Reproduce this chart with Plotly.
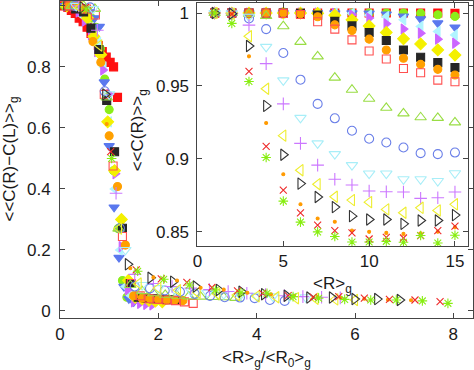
import plotly.graph_objects as go

# ---------------- inset data: <<C(R)>>_g vs <R>_g ----------------
R_inset = [1, 2, 3, 4, 5, 6, 7, 8, 9, 10, 11, 12, 13, 14, 15]

C_star = [1.0, 0.9929, 0.9531, 0.9009, 0.8710, 0.8566, 0.8499, 0.8467, 0.8430, 0.8430, 0.8434, 0.8428, 0.8474, 0.8423, 0.8476]
C_x = [1.0, 0.9993, 0.9600, 0.9085, 0.8786, 0.8630, 0.8545, 0.8508, 0.8492, 0.8450, 0.8462, 0.8457, 0.8474, 0.8508, 0.8538]
C_dot = [1.0, 0.9995, 0.9703, 0.9246, 0.8894, 0.8688, 0.8591, 0.8568, 0.8508, 0.8499, 0.8492, 0.8485, 0.8490, 0.8500, 0.8530]
C_rtri = [1.0, 0.9995, 0.9774, 0.9363, 0.9028, 0.8830, 0.8738, 0.8669, 0.8607, 0.8584, 0.8584, 0.8554, 0.8577, 0.8577, 0.8614]
C_ltri = [1.0, 0.9995, 0.9841, 0.9481, 0.9159, 0.8922, 0.8826, 0.8740, 0.8717, 0.8703, 0.8653, 0.8630, 0.8664, 0.8646, 0.8688]
C_plus = [1.0, 0.9995, 0.9917, 0.9653, 0.9377, 0.9106, 0.8957, 0.8860, 0.8821, 0.8779, 0.8774, 0.8772, 0.8729, 0.8733, 0.8772]
C_dtri = [1.0, 0.9998, 0.9975, 0.9768, 0.9538, 0.9281, 0.9106, 0.9032, 0.8957, 0.8899, 0.8899, 0.8860, 0.8860, 0.8848, 0.8901]
C_circ = [1.0, 0.9998, 0.9963, 0.9890, 0.9726, 0.9543, 0.9377, 0.9278, 0.9193, 0.9138, 0.9112, 0.9078, 0.9039, 0.9032, 0.9043]
C_utri = [1.0, 1.0, 0.9995, 0.9980, 0.9910, 0.9802, 0.9703, 0.9557, 0.9474, 0.9412, 0.9350, 0.9312, 0.9285, 0.9281, 0.9250]
C_sqo = [1.0, 1.0, 1.0, 1.0, 0.9998, 0.9990, 0.9940, 0.9890, 0.9816, 0.9740, 0.9685, 0.9620, 0.9591, 0.9540, 0.9529]
C_ocirc = [1.0, 1.0, 1.0, 1.0, 1.0, 0.9995, 0.9975, 0.9919, 0.9880, 0.9821, 0.9747, 0.9690, 0.9648, 0.9614, 0.9575]
C_bsq = [1.0, 1.0, 1.0, 1.0, 1.0, 0.9998, 0.9986, 0.9943, 0.9912, 0.9867, 0.9812, 0.9747, 0.9697, 0.9660, 0.9626]
C_dia = [1.0, 1.0, 1.0, 1.0, 1.0, 1.0, 0.9998, 0.9985, 0.9954, 0.9912, 0.9867, 0.9823, 0.9788, 0.9747, 0.9712]
C_vrtri = [1.0, 1.0, 1.0, 1.0, 1.0, 1.0, 1.0, 0.9998, 0.9988, 0.9966, 0.9926, 0.9890, 0.9862, 0.9821, 0.9793]
C_cltri = [1.0, 1.0, 1.0, 1.0, 1.0, 1.0, 1.0, 1.0, 0.9998, 0.9985, 0.9975, 0.9954, 0.9908, 0.9874, 0.9850]
C_bdtri = [1.0, 1.0, 1.0, 1.0, 1.0, 1.0, 1.0, 1.0, 1.0, 0.9998, 0.9992, 0.9977, 0.9959, 0.9931, 0.9903]
C_gcirc = [1.0, 1.0, 1.0, 1.0, 1.0, 1.0, 1.0, 1.0, 1.0, 1.0, 1.0, 1.0, 0.9998, 0.9988, 0.9977]
C_rsq = [1.0, 1.0, 1.0, 1.0, 1.0, 1.0, 1.0, 1.0, 1.0, 1.0, 1.0, 1.0, 1.0, 1.0, 0.9998]

# ---------------- main data: <<C(R)-C(L)>>_g vs <R>_g/<R0>_g ----------------
X_star = [0.53, 1.05, 1.58, 2.11, 2.63, 3.16, 3.68, 4.21, 4.74, 5.26, 5.79, 6.32, 6.84, 7.37, 7.89]
Y_star = [0.99, 0.50, 0.13, 0.104, 0.085, 0.069, 0.06, 0.058, 0.047, 0.042, 0.038, 0.036, 0.036, 0.033, 0.025]
X_x = [0.52, 1.03, 1.55, 2.06, 2.58, 3.09, 3.61, 4.12, 4.64, 5.15, 5.67, 6.19, 6.70, 7.22, 7.73]
Y_x = [0.995, 0.522, 0.135, 0.105, 0.094, 0.077, 0.066, 0.058, 0.05, 0.045, 0.047, 0.042, 0.038, 0.036, 0.031]
X_dot = [0.48, 0.95, 1.43, 1.90, 2.38, 2.86, 3.33, 3.81, 4.29, 4.76, 5.24, 5.71, 6.19, 6.67, 7.14]
Y_dot = [0.995, 0.613, 0.14, 0.11, 0.1, 0.076, 0.07, 0.06, 0.055, 0.05, 0.046, 0.043, 0.04, 0.037, 0.035]
X_rtri = [0.46, 0.92, 1.38, 1.84, 2.30, 2.76, 3.23, 3.69, 4.15, 4.61, 5.07, 5.53, 5.99, 6.45, 6.91]
Y_rtri = [0.995, 0.71, 0.153, 0.109, 0.096, 0.08, 0.069, 0.063, 0.055, 0.05, 0.044, 0.044, 0.039, 0.039, 0.036]
X_ltri = [0.40, 0.80, 1.20, 1.60, 2.00, 2.40, 2.80, 3.20, 3.60, 4.00, 4.40, 4.80, 5.20, 5.60, 6.00]
Y_ltri = [0.995, 0.87, 0.27, 0.09, 0.075, 0.068, 0.06, 0.056, 0.052, 0.048, 0.045, 0.042, 0.04, 0.038, 0.036]
X_plus = [0.38, 0.76, 1.14, 1.52, 1.90, 2.28, 2.66, 3.04, 3.42, 3.80, 4.18, 4.56, 4.94, 5.32, 5.70]
Y_plus = [1.0, 0.92, 0.386, 0.12, 0.09, 0.08, 0.075, 0.07, 0.064, 0.058, 0.054, 0.05, 0.047, 0.045, 0.043]
X_dtri = [0.33, 0.67, 1.00, 1.33, 1.67, 2.00, 2.33, 2.67, 3.00, 3.33, 3.67, 4.00, 4.33, 4.67, 5.00]
Y_dtri = [1.0, 0.99, 0.71, 0.2, 0.085, 0.075, 0.07, 0.065, 0.06, 0.055, 0.052, 0.05, 0.048, 0.047, 0.045]
X_circ = [0.30, 0.61, 0.91, 1.22, 1.52, 1.83, 2.13, 2.44, 2.74, 3.05, 3.35, 3.66, 3.96, 4.27, 4.57]
Y_circ = [1.0, 0.995, 0.72, 0.271, 0.08, 0.074, 0.067, 0.063, 0.056, 0.049, 0.045, 0.044, 0.042, 0.036, 0.033]
X_utri = [0.24, 0.48, 0.71, 0.95, 1.19, 1.43, 1.67, 1.90, 2.14, 2.38, 2.62, 2.86, 3.10, 3.33, 3.57]
Y_utri = [1.0, 1.0, 0.99, 0.70, 0.27, 0.085, 0.065, 0.058, 0.053, 0.05, 0.048, 0.047, 0.046, 0.045, 0.043]
X_sqo = [0.18, 0.36, 0.54, 0.72, 0.90, 1.08, 1.27, 1.45, 1.63, 1.81, 1.99, 2.17, 2.35, 2.53, 2.71]
Y_sqo = [1.0, 1.0, 0.99, 0.97, 0.71, 0.475, 0.244, 0.09, 0.05, 0.04, 0.038, 0.036, 0.034, 0.03, 0.025]
X_ocirc = [0.17, 0.33, 0.50, 0.67, 0.83, 1.00, 1.17, 1.33, 1.50, 1.67, 1.83, 2.00, 2.17, 2.33, 2.50]
Y_ocirc = [1.0, 1.0, 0.99, 0.883, 0.815, 0.574, 0.408, 0.216, 0.05, 0.042, 0.04, 0.038, 0.036, 0.035, 0.034]
X_bsq = [0.16, 0.32, 0.48, 0.63, 0.79, 0.95, 1.11, 1.27, 1.43, 1.59, 1.75, 1.90, 2.06, 2.22, 2.38]
Y_bsq = [1.0, 0.99, 0.98, 0.927, 0.857, 0.69, 0.522, 0.271, 0.09, 0.045, 0.042, 0.04, 0.038, 0.037, 0.035]
X_dia = [0.14, 0.28, 0.42, 0.56, 0.69, 0.83, 0.97, 1.11, 1.25, 1.39, 1.53, 1.67, 1.81, 1.94, 2.08]
Y_dia = [1.0, 1.0, 0.99, 0.96, 0.9, 0.84, 0.62, 0.46, 0.3, 0.1, 0.045, 0.04, 0.035, 0.032, 0.03]
X_vrtri = [0.125, 0.25, 0.375, 0.5, 0.625, 0.75, 0.875, 1.0, 1.125, 1.25, 1.375, 1.5, 1.625, 1.75, 1.875]
Y_vrtri = [1.0, 1.0, 0.98, 0.95, 0.905, 0.85, 0.79, 0.71, 0.45, 0.211, 0.07, 0.03, 0.025, 0.022, 0.02]
X_cltri = [0.11, 0.22, 0.33, 0.44, 0.56, 0.67, 0.78, 0.89, 1.00, 1.11, 1.22, 1.33, 1.44, 1.56, 1.67]
Y_cltri = [1.0, 1.0, 0.99, 0.97, 0.95, 0.92, 0.88, 0.8, 0.62, 0.4, 0.2, 0.08, 0.05, 0.04, 0.035]
X_bdtri = [0.10, 0.20, 0.30, 0.40, 0.50, 0.60, 0.70, 0.80, 0.90, 1.00, 1.10, 1.20, 1.30, 1.40, 1.50]
Y_bdtri = [1.0, 1.0, 1.0, 0.995, 0.99, 0.98, 0.96, 0.932, 0.75, 0.541, 0.34, 0.175, 0.08, 0.04, 0.03]
X_gcirc = [0.09, 0.18, 0.27, 0.36, 0.45, 0.55, 0.64, 0.73, 0.82, 0.91, 1.00, 1.09, 1.18, 1.27, 1.36]
Y_gcirc = [1.0, 1.0, 1.0, 1.0, 0.99, 0.98, 0.96, 0.93, 0.86, 0.76, 0.66, 0.46, 0.27, 0.1, 0.045]
X_rsq = [0.08, 0.16, 0.23, 0.31, 0.39, 0.47, 0.55, 0.63, 0.70, 0.78, 0.86, 0.94, 1.02, 1.09, 1.17]
Y_rsq = [1.0, 0.995, 0.985, 0.975, 0.96, 0.948, 0.93, 0.91, 0.89, 0.87, 0.85, 0.832, 0.815, 0.80, 0.70]

# main ticks / inset ticks
main_xticks = [0, 2, 4, 6, 8]
main_yticks = [0, 0.2, 0.4, 0.6, 0.8, 1]
main_yticklabels = ["0", "0.2", "0.4", "0.6", "0.8", "1"]
inset_xticks = [0, 5, 10, 15]
inset_yticks = [0.85, 0.9, 0.95, 1]
inset_yticklabels = ["0.85", "0.9", "0.95", "1"]

# drawing order: filled markers first, open markers on top
series = [
    (X_rsq, Y_rsq, C_rsq, "square", "#ff1010", 8),
    (X_gcirc, Y_gcirc, C_gcirc, "circle", "#8cee1a", 8),
    (X_bdtri, Y_bdtri, C_bdtri, "triangle-down", "#5a78ee", 9),
    (X_cltri, Y_cltri, C_cltri, "triangle-left", "#b0f4ff", 9),
    (X_vrtri, Y_vrtri, C_vrtri, "triangle-right", "#cc66ff", 9),
    (X_dia, Y_dia, C_dia, "diamond", "#f4f000", 9),
    (X_bsq, Y_bsq, C_bsq, "square", "#262626", 8),
    (X_ocirc, Y_ocirc, C_ocirc, "circle", "#ffa000", 8),
    (X_sqo, Y_sqo, C_sqo, "square-open", "#ff5050", 8),
    (X_utri, Y_utri, C_utri, "triangle-up-open", "#99dd44", 10),
    (X_circ, Y_circ, C_circ, "circle-open", "#6a7fe8", 9),
    (X_dtri, Y_dtri, C_dtri, "triangle-down-open", "#a8eef8", 10),
    (X_plus, Y_plus, C_plus, "cross-thin-open", "#cc77ff", 9),
    (X_ltri, Y_ltri, C_ltri, "triangle-left-open", "#eeee30", 10),
    (X_rtri, Y_rtri, C_rtri, "triangle-right-open", "#333333", 10),
    (X_dot, Y_dot, C_dot, "circle", "#ff9a00", 3),
    (X_x, Y_x, C_x, "x-thin-open", "#ee2a2a", 7),
    (X_star, Y_star, C_star, "asterisk-open", "#88ee11", 8),
]

fig = go.Figure()
for xm, ym, ci, sym, col, sz in series:
    mk = dict(symbol=sym, color=col, size=sz, line=dict(width=1.1, color=col))
    fig.add_trace(go.Scatter(x=xm, y=ym, mode="markers", marker=mk,
                             xaxis="x", yaxis="y", showlegend=False, hoverinfo="skip"))
for xm, ym, ci, sym, col, sz in series:
    mk = dict(symbol=sym, color=col, size=sz, line=dict(width=1.1, color=col))
    fig.add_trace(go.Scatter(x=R_inset, y=ci, mode="markers", marker=mk,
                             xaxis="x2", yaxis="y2", showlegend=False, hoverinfo="skip"))

axcol = "#444444"
common = dict(showline=True, linecolor=axcol, linewidth=1, mirror="ticks", ticks="inside",
              ticklen=5, tickcolor=axcol, tickwidth=1, showgrid=False, zeroline=False,
              tickfont=dict(size=17, color="#1a1a1a"))

fig.update_layout(
    width=474, height=370,
    margin=dict(l=60, r=1, t=1, b=52),
    paper_bgcolor="white", plot_bgcolor="white",
    font=dict(family="Liberation Sans, Arial, sans-serif", size=17, color="#1a1a1a"),
    xaxis=dict(domain=[0, 1], range=[0, 8.4], tickvals=main_xticks, ticklabelstandoff=1, **common),
    yaxis=dict(domain=[0, 1], range=[-0.023, 1.016], tickvals=main_yticks, ticktext=main_yticklabels,
               ticklabelstandoff=5, **common),
    xaxis2=dict(domain=[0.3329, 0.9879], range=[0, 15.76], tickvals=inset_xticks, anchor="y2",
                ticklabelstandoff=0, **common),
    yaxis2=dict(domain=[0.2271, 0.9937], range=[0.8402, 1.0069], tickvals=inset_yticks,
                ticktext=inset_yticklabels, anchor="x2", ticklabelstandoff=4, **common),
    annotations=[
        dict(text="&lt;R&gt;<sub>g</sub>/&lt;R<sub>0</sub>&gt;<sub>g</sub>", xref="paper", yref="paper",
             x=0.4988, y=-0.128, xanchor="center", yanchor="middle", showarrow=False, font=dict(size=17)),
        dict(text="&lt;&lt;C(R)−C(L)&gt;&gt;<sub>g</sub>", xref="paper", yref="paper",
             x=-0.121, y=0.5, xanchor="center", yanchor="middle", textangle=-90, showarrow=False,
             font=dict(size=17)),
        dict(text="&lt;&lt;C(R)&gt;&gt;<sub>g</sub>", xref="paper", yref="paper",
             x=0.192, y=0.593, xanchor="center", yanchor="middle", textangle=-90, showarrow=False,
             font=dict(size=17)),
        dict(text="&lt;R&gt;<sub>g</sub>", xref="paper", yref="paper",
             x=0.661, y=0.105, xanchor="center", yanchor="middle", showarrow=False, font=dict(size=17)),
    ],
)

fig.write_html("out.html", config={"displayModeBar": False},
               post_script="document.body.style.margin='0';document.body.style.padding='0';"
                           "document.body.style.overflow='hidden';")
